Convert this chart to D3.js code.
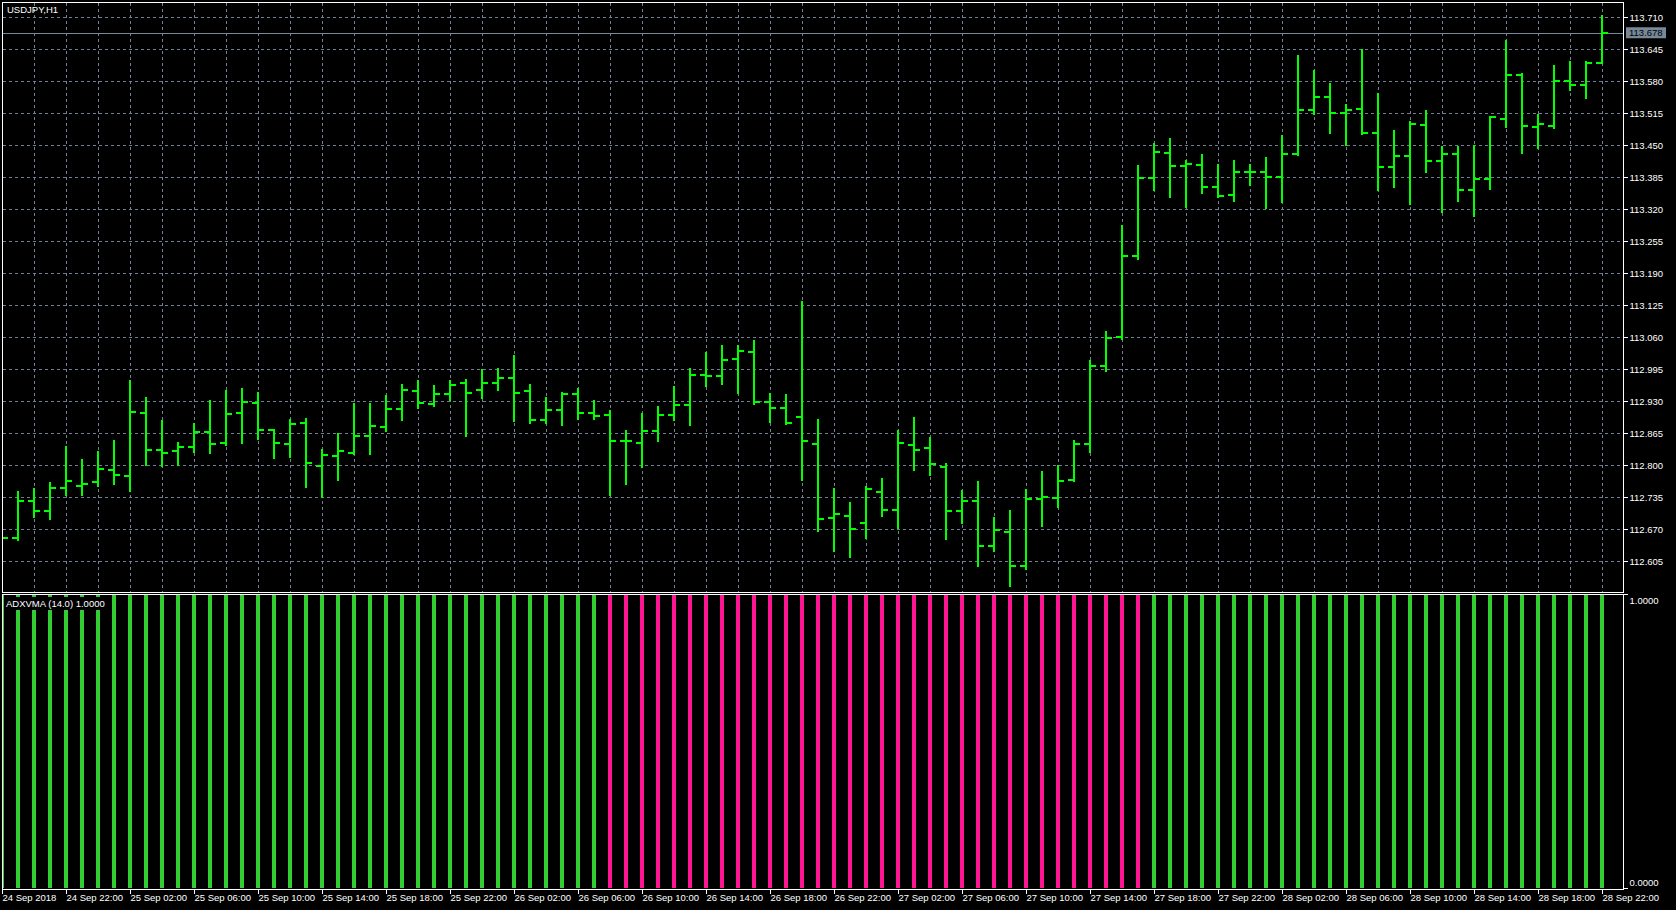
<!DOCTYPE html>
<html><head><meta charset="utf-8">
<script src="https://cdn.jsdelivr.net/npm/d3@7"></script>
<style>
html,body{margin:0;padding:0;background:#000;overflow:hidden}
svg{display:block}
text{font-family:"Liberation Sans",Arial,sans-serif;font-size:9.5px;fill:#fff}
</style></head><body>
<svg id="c" width="1676" height="910"></svg>
<script>
// ---------------- data ----------------
const symbolLabel = "USDJPY,H1";
const indicatorLabel = "ADXVMA (14.0) 1.0000";
const firstBarTime = "2018-09-24 18:00";
const currentPrice = 113.678;

const opens = [112.650,112.652,112.727,112.707,112.753,112.757,112.765,112.790,112.778,112.906,
112.830,112.828,112.837,112.867,112.845,112.906,112.926,112.871,112.843,112.885,
112.798,112.818,112.824,112.859,112.877,112.914,112.950,112.924,112.945,112.967,
112.952,112.967,112.977,112.950,112.891,112.911,112.944,112.905,112.901,112.849,
112.844,112.870,112.901,112.921,112.983,112.980,113.015,113.029,112.927,112.915,
112.897,112.842,112.692,112.696,112.682,112.745,112.708,112.840,112.834,112.795,
112.706,112.726,112.635,112.663,112.594,112.730,112.732,112.769,112.842,113.002,
113.060,113.224,113.382,113.433,113.407,113.409,113.365,113.348,113.395,113.396,
113.386,113.431,113.521,113.547,113.516,113.523,113.474,113.405,113.428,113.490,
113.417,113.431,113.358,113.380,113.503,113.592,113.486,113.489,113.581,113.571,
113.617];
const highs = [112.660,112.746,112.752,112.764,112.836,112.811,112.827,112.849,112.971,112.937,
112.890,112.845,112.884,112.931,112.951,112.955,112.947,112.871,112.892,112.894,
112.831,112.862,112.923,112.923,112.941,112.963,112.971,112.961,112.971,112.973,
112.992,112.994,113.022,112.963,112.937,112.946,112.954,112.930,112.909,112.869,
112.904,112.918,112.958,112.995,113.028,113.042,113.042,113.052,112.944,112.942,
113.131,112.891,112.751,112.723,112.755,112.772,112.869,112.895,112.855,112.802,
112.747,112.765,112.692,112.707,112.749,112.786,112.798,112.849,113.011,113.070,
113.286,113.408,113.452,113.462,113.418,113.430,113.409,113.418,113.410,113.424,
113.469,113.631,113.601,113.573,113.532,113.642,113.554,113.478,113.497,113.519,
113.445,113.445,113.447,113.507,113.661,113.594,113.511,113.611,113.619,113.619,
113.713];
const lows = [112.641,112.648,112.694,112.690,112.740,112.739,112.757,112.761,112.747,112.801,
112.798,112.799,112.826,112.824,112.841,112.845,112.853,112.814,112.816,112.755,
112.734,112.770,112.822,112.822,112.869,112.891,112.916,112.920,112.932,112.859,
112.936,112.952,112.890,112.885,112.885,112.882,112.894,112.893,112.740,112.761,
112.795,112.848,112.891,112.881,112.960,112.964,112.947,112.924,112.887,112.883,
112.769,112.666,112.625,112.614,112.652,112.696,112.673,112.789,112.779,112.649,
112.682,112.594,112.625,112.554,112.588,112.677,112.715,112.767,112.826,112.990,
113.055,113.218,113.358,113.344,113.324,113.352,113.344,113.336,113.368,113.323,
113.334,113.430,113.512,113.474,113.450,113.473,113.359,113.364,113.330,113.395,
113.313,113.336,113.305,113.360,113.487,113.433,113.443,113.484,113.561,113.545,
113.617];
const closes = [112.652,112.727,112.707,112.753,112.767,112.761,112.792,112.780,112.908,112.830,
112.824,112.837,112.867,112.843,112.904,112.928,112.871,112.845,112.883,112.804,
112.820,112.828,112.859,112.879,112.914,112.952,112.926,112.945,112.963,112.947,
112.967,112.977,112.947,112.891,112.912,112.944,112.905,112.899,112.849,112.848,
112.870,112.901,112.921,112.983,112.981,113.013,113.031,112.927,112.915,112.885,
112.848,112.690,112.700,112.671,112.751,112.708,112.844,112.830,112.802,112.706,
112.726,112.635,112.667,112.594,112.730,112.734,112.767,112.842,113.002,113.058,
113.224,113.382,113.435,113.407,113.411,113.365,113.346,113.395,113.396,113.386,
113.431,113.521,113.547,113.516,113.521,113.474,113.405,113.428,113.493,113.417,
113.431,113.358,113.380,113.506,113.593,113.488,113.492,113.581,113.571,113.617,
113.678];

// ADXVMA histogram: value and trend (1 = up/green, -1 = down/pink)
const adxvmaValues = [1,1,1,1,1,1,1,1,1,1, 1,1,1,1,1,1,1,1,1,1, 1,1,1,1,1,1,1,1,1,1,
1,1,1,1,1,1,1,1,1,1, 1,1,1,1,1,1,1,1,1,1, 1,1,1,1,1,1,1,1,1,1, 1,1,1,1,1,1,1,1,1,1,
1,1,1,1,1,1,1,1,1,1, 1,1,1,1,1,1,1,1,1,1, 1,1,1,1,1,1,1,1,1,1, 1];
const adxvmaTrend = [1,1,1,1,1,1,1,1,1,1, 1,1,1,1,1,1,1,1,1,1, 1,1,1,1,1,1,1,1,1,1,
1,1,1,1,1,1,1,1,-1,-1, -1,-1,-1,-1,-1,-1,-1,-1,-1,-1, -1,-1,-1,-1,-1,-1,-1,-1,-1,-1,
-1,-1,-1,-1,-1,-1,-1,-1,-1,-1, -1,-1,1,1,1,1,1,1,1,1, 1,1,1,1,1,1,1,1,1,1,
1,1,1,1,1,1,1,1,1,1, 1];

const priceTicks = [113.710,113.645,113.580,113.515,113.450,113.385,113.320,113.255,113.190,
113.125,113.060,112.995,112.930,112.865,112.800,112.735,112.670,112.605];
const indicatorTicks = [1, 0];

const timeTickTimes = ["2018-09-24 18:00","2018-09-24 22:00","2018-09-25 02:00","2018-09-25 06:00",
"2018-09-25 10:00","2018-09-25 14:00","2018-09-25 18:00","2018-09-25 22:00","2018-09-26 02:00",
"2018-09-26 06:00","2018-09-26 10:00","2018-09-26 14:00","2018-09-26 18:00","2018-09-26 22:00",
"2018-09-27 02:00","2018-09-27 06:00","2018-09-27 10:00","2018-09-27 14:00","2018-09-27 18:00",
"2018-09-27 22:00","2018-09-28 02:00","2018-09-28 06:00","2018-09-28 10:00","2018-09-28 14:00",
"2018-09-28 18:00","2018-09-28 22:00"];
const timeTickLabels = ["24 Sep 2018","24 Sep 22:00","25 Sep 02:00","25 Sep 06:00","25 Sep 10:00",
"25 Sep 14:00","25 Sep 18:00","25 Sep 22:00","26 Sep 02:00","26 Sep 06:00","26 Sep 10:00",
"26 Sep 14:00","26 Sep 18:00","26 Sep 22:00","27 Sep 02:00","27 Sep 06:00","27 Sep 10:00",
"27 Sep 14:00","27 Sep 18:00","27 Sep 22:00","28 Sep 02:00","28 Sep 06:00","28 Sep 10:00",
"28 Sep 14:00","28 Sep 18:00","28 Sep 22:00"];

// ---------------- layout ----------------
const L = 2, R = 1623, T = 2, MB = 592, ST = 594, SB = 889;
const barColor = "#00ff00", upColor = "#32cd32", dnColor = "#ff1493";
const gridColor = "#708090", axisColor = "#ffffff";

const parse = d3.timeParse("%Y-%m-%d %H:%M");
const t0 = parse(firstBarTime);
const bars = opens.map((o, i) => ({
  t: d3.timeHour.offset(t0, i), o, h: highs[i], l: lows[i], c: closes[i],
  v: adxvmaValues[i], tr: adxvmaTrend[i], i
}));

const x = d3.scaleTime().domain([bars[0].t, bars[bars.length - 1].t]).range([2, 1602]);
const y = d3.scaleLinear().domain([112.605, 113.710]).range([561, 17]);
const yi = d3.scaleLinear().domain([0, 1]).range([888, 594]);

const svg = d3.select("#c");
svg.append("rect").attr("width", 1676).attr("height", 910).attr("fill", "#000");

const defs = svg.append("defs");
defs.append("clipPath").attr("id", "mainClip").append("rect")
  .attr("x", L + 1).attr("y", T + 1).attr("width", R - L - 1).attr("height", MB - T - 1);
defs.append("clipPath").attr("id", "subClip").append("rect")
  .attr("x", L + 1).attr("y", ST + 1).attr("width", R - L - 1).attr("height", SB - ST - 1);

// ---- main panel grid ----
const main = svg.append("g").attr("clip-path", "url(#mainClip)");
const grid = main.append("g").attr("stroke", gridColor).attr("stroke-width", 1)
  .attr("stroke-dasharray", "3,3").attr("shape-rendering", "crispEdges");
grid.selectAll("line.h").data(priceTicks).join("line").attr("class", "h")
  .attr("x1", L + 1).attr("x2", R)
  .attr("y1", d => Math.round(y(d)) + 0.5).attr("y2", d => Math.round(y(d)) + 0.5);
grid.selectAll("line.v").data(bars.filter(b => b.i > 0 && b.i % 2 === 0)).join("line").attr("class", "v")
  .attr("x1", d => Math.round(x(d.t)) + 0.5).attr("x2", d => Math.round(x(d.t)) + 0.5)
  .attr("y1", T + 1).attr("y2", MB);

// current price line
main.append("line").attr("x1", L + 1).attr("x2", R)
  .attr("y1", Math.round(y(currentPrice)) + 0.5).attr("y2", Math.round(y(currentPrice)) + 0.5)
  .attr("stroke", "#778899").attr("stroke-width", 1).attr("shape-rendering", "crispEdges");

// OHLC bars
const ohlc = main.append("g").attr("stroke", barColor).attr("stroke-width", 2)
  .attr("shape-rendering", "crispEdges");
const bg = ohlc.selectAll("g").data(bars).join("g");
bg.append("line").attr("x1", d => x(d.t)).attr("x2", d => x(d.t))
  .attr("y1", d => y(d.h) - 1).attr("y2", d => y(d.l) + 1);
bg.append("line").attr("x1", d => x(d.t) - 6).attr("x2", d => x(d.t))
  .attr("y1", d => y(d.o)).attr("y2", d => y(d.o));
bg.append("line").attr("x1", d => x(d.t)).attr("x2", d => x(d.t) + 6)
  .attr("y1", d => y(d.c)).attr("y2", d => y(d.c));

// symbol label
svg.append("text").attr("x", 7).attr("y", 13).text(symbolLabel);

// ---- sub panel histogram ----
const sub = svg.append("g").attr("clip-path", "url(#subClip)");
sub.selectAll("rect.hist").data(bars).join("rect").attr("class", "hist")
  .attr("x", d => x(d.t) - 2).attr("width", 4)
  .attr("y", d => yi(d.v)).attr("height", d => yi(0) - yi(d.v))
  .attr("fill", d => d.tr > 0 ? upColor : dnColor)
  .attr("shape-rendering", "crispEdges");
const il = svg.append("g");
const ilText = il.append("text").attr("x", 6).attr("y", 607).text(indicatorLabel);
const bb = ilText.node().getBBox();
il.insert("rect", "text").attr("x", bb.x - 1).attr("y", bb.y - 1)
  .attr("width", bb.width + 2).attr("height", bb.height + 2).attr("fill", "#000");

// ---- frames ----
const frame = svg.append("g").attr("stroke", axisColor).attr("stroke-width", 1)
  .attr("fill", "none").attr("shape-rendering", "crispEdges");
frame.append("rect").attr("x", L + 0.5).attr("y", T + 0.5).attr("width", R - L).attr("height", MB - T);
frame.append("rect").attr("x", L + 0.5).attr("y", ST + 0.5).attr("width", R - L).attr("height", SB - ST);

// ---- price axis ----
const pAxis = svg.append("g").attr("transform", `translate(${R + 0.5},0)`)
  .call(d3.axisRight(y).tickValues(priceTicks).tickFormat(d3.format(".3f")).tickSize(4).tickPadding(2));
pAxis.select(".domain").remove();
pAxis.selectAll(".tick line").attr("stroke", axisColor).attr("shape-rendering", "crispEdges");
pAxis.selectAll(".tick text").attr("fill", axisColor).style("font-size", "9.5px")
  .style("font-family", '"Liberation Sans",Arial,sans-serif');

// current price tag
const cpY = y(currentPrice);
svg.append("rect").attr("x", R + 3).attr("y", cpY - 5.5).attr("width", 40).attr("height", 11)
  .attr("fill", "#778899");
svg.append("text").attr("x", R + 6).attr("y", cpY).attr("dy", "0.35em").attr("fill", "#000")
  .style("fill", "#000").text(d3.format(".3f")(currentPrice));

// ---- indicator axis ----
const iAxis = svg.append("g").attr("transform", `translate(${R + 0.5},0)`)
  .call(d3.axisRight(yi).tickValues(indicatorTicks).tickFormat(d3.format(".4f")).tickSize(4).tickPadding(2));
iAxis.select(".domain").remove();
iAxis.selectAll(".tick line").attr("stroke", axisColor).attr("shape-rendering", "crispEdges");
iAxis.selectAll(".tick text").attr("fill", axisColor).style("font-size", "9.5px")
  .style("font-family", '"Liberation Sans",Arial,sans-serif')
  .attr("dy", d => d === 1 ? "0.95em" : "-0.25em");

// ---- time axis ----
const tTimes = timeTickTimes.map(parse);
const tAxis = svg.append("g").attr("transform", `translate(0,${SB + 0.5})`)
  .call(d3.axisBottom(x).tickValues(tTimes).tickFormat((d, i) => timeTickLabels[i]).tickSize(4).tickPadding(1));
tAxis.select(".domain").remove();
tAxis.selectAll(".tick line").attr("stroke", axisColor).attr("shape-rendering", "crispEdges");
tAxis.selectAll(".tick text").attr("fill", axisColor).attr("text-anchor", "start").attr("x", 0)
  .style("font-size", "9.5px").style("font-family", '"Liberation Sans",Arial,sans-serif');
</script>
</body></html>
